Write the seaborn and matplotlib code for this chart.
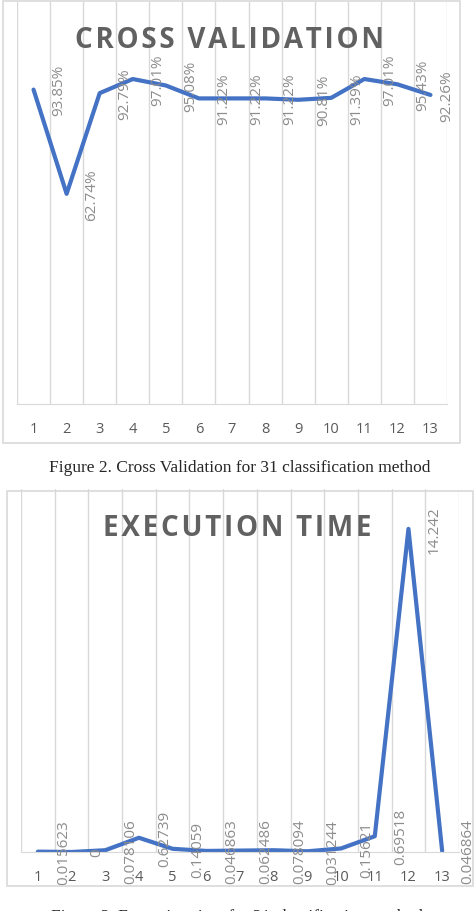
import numpy as np
import matplotlib
matplotlib.use("Agg")
import matplotlib.pyplot as plt
import seaborn as sns
from matplotlib.patches import Rectangle

# ---- data ----
methods = list(range(1, 14))
cv_values = [93.85, 62.74, 92.79, 97.01, 95.08, 91.22, 91.22, 91.22, 90.81, 91.39, 97.01, 95.43, 92.26]
cv_labels = ["93.85%", "62.74%", "92.79%", "97.01%", "95.08%", "91.22%", "91.22%",
             "91.22%", "90.81%", "91.39%", "97.01%", "95.43%", "92.26%"]
time_values = [0.015623, 0, 0.078106, 0.62739, 0.14059, 0.046863, 0.062486,
               0.078094, 0.031244, 0.15621, 0.69518, 14.242, 0.046864]
time_labels = ["0.015623", "0", "0.078106", "0.62739", "0.14059", "0.046863", "0.062486",
               "0.078094", "0.031244", "0.15621", "0.69518", "14.242", "0.046864"]

W, H = 474, 912
LINE = "#4472C4"
GRID = "#d9d9d9"
TICK = "#595959"
LABEL = "#8c8c8c"

sns.set_style("white")
plt.rcParams["font.family"] = ["Open Sans", "DejaVu Sans"]

fig = plt.figure(figsize=(W / 100, H / 100), dpi=100)


def px_rect(x0, y0, x1, y1):
    # pixel box (top-left origin) -> figure fraction [l, b, w, h]
    return [x0 / W, 1 - y1 / H, (x1 - x0) / W, (y1 - y0) / H]


def spaced(s):
    # a little letter spacing like the Excel chart titles
    return "\u200a".join(s)


def chart(box, plot, ymax, values, labels, title, title_xy, last_offset):
    fig.patches.append(Rectangle((box[0] / W, 1 - box[3] / H), (box[2] - box[0]) / W,
                                 (box[3] - box[1]) / H, transform=fig.transFigure,
                                 fill=False, edgecolor=GRID, linewidth=1.2))
    ax = fig.add_axes(px_rect(*plot))
    sns.lineplot(x=methods, y=values, ax=ax, color=LINE, linewidth=3)
    ax.set_xlim(0.5, 13.5)
    ax.set_ylim(0, ymax)
    ax.set_xlabel("")
    ax.set_ylabel("")
    ax.set_yticks([])
    ax.set_xticks(methods)
    ax.set_xticklabels([str(m) for m in methods])
    ax.set_xticks(np.arange(0.5, 14, 1), minor=True)
    ax.grid(which="minor", axis="x", color=GRID, linewidth=1)
    ax.tick_params(axis="x", which="both", length=0, pad=12, labelsize=10.5, labelcolor=TICK)
    for side in ["left", "right", "top"]:
        ax.spines[side].set_visible(False)
    ax.spines["bottom"].set_color(GRID)
    ax.patch.set_alpha(0)
    for i, (m, v, lab) in enumerate(zip(methods, values, labels)):
        off = last_offset if i == len(methods) - 1 else 0.76
        ax.text(m + off, v, lab, rotation=90, ha="center", va="center",
                fontsize=11, color=LABEL, clip_on=False)
    fig.text(title_xy[0] / W, 1 - title_xy[1] / H, spaced(title), ha="center", va="center",
             fontsize=20, fontweight="bold", color="#616161")
    return ax


chart((3, 2, 460, 444), (17, 3, 447, 405), 120, cv_values, cv_labels,
      "CROSS VALIDATION", (229, 41), 0.5)
chart((7, 492, 473, 887), (21, 490, 459, 853), 16, time_values, time_labels,
      "EXECUTION TIME", (237, 529), 0.76)

fig.text(240 / W, 1 - 468 / H, "Figure 2. Cross Validation for 31 classification method",
         ha="center", va="center", fontsize=12.5, family=["Liberation Serif", "DejaVu Serif"])
fig.text(237 / W, 1 - 909 / H, "Figure 3. Execution time for 31 classification method",
         ha="center", va="top", fontsize=12.5, family=["Liberation Serif", "DejaVu Serif"])

fig.savefig("out.png", dpi=100)
